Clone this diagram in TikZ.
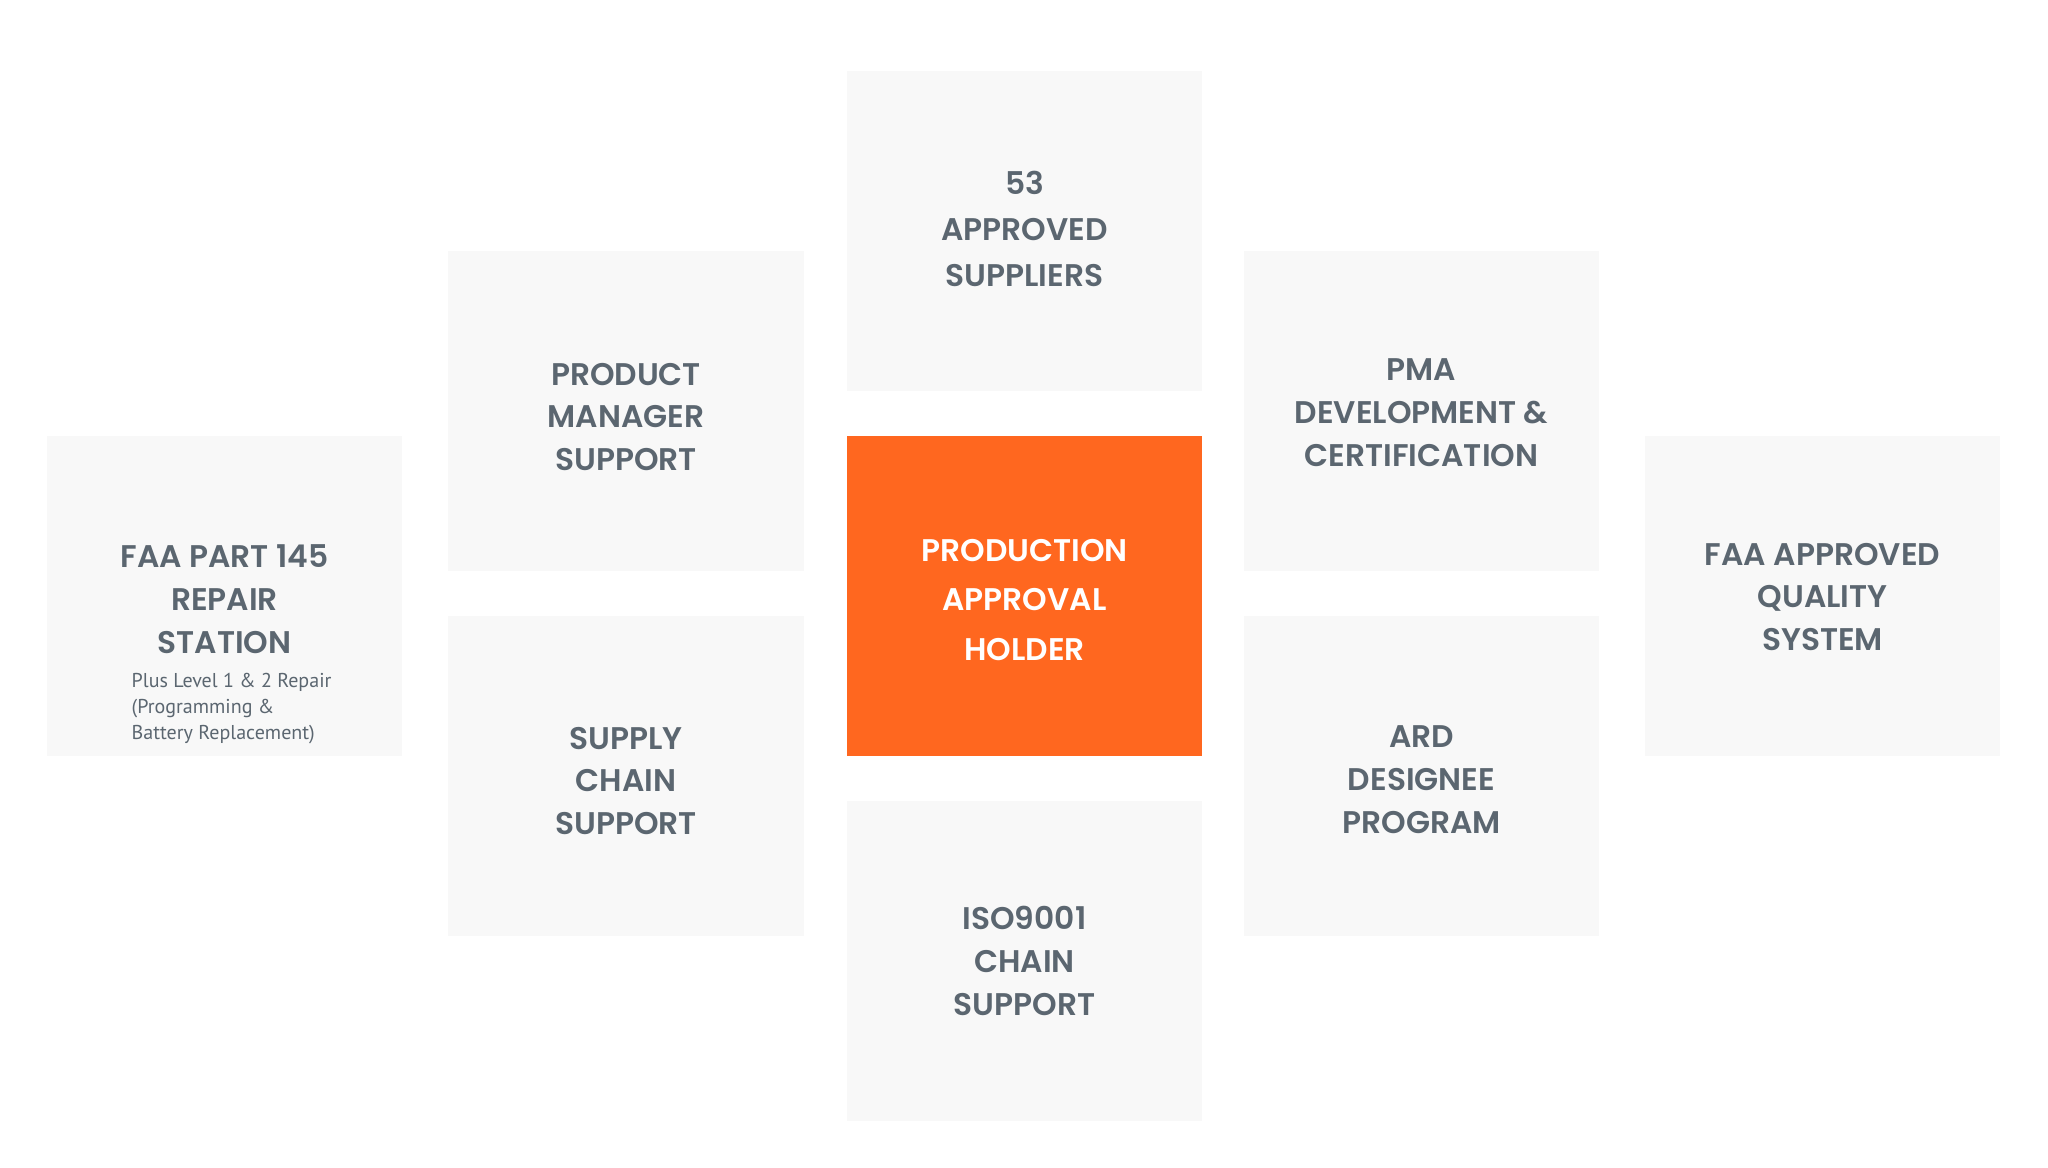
\documentclass[tikz,border=0pt]{standalone}
\usepackage{fontspec}
\setmainfont{Poppins}
\newfontfamily\hd{Poppins SemiBold}
\newfontfamily\sm{PT Sans}
\definecolor{boxgray}{HTML}{F8F8F8}
\definecolor{orng}{HTML}{FF671F}
\definecolor{txtgray}{HTML}{5B6670}
\tikzset{
  tile/.style={rectangle, fill=boxgray, draw=none, minimum width=3.55cm, minimum height=3.2cm, inner sep=0pt},
  hubtile/.style={tile, fill=orng},
  lbl/.style={align=center, text=txtgray, inner sep=0pt, font=\hd\fontsize{8.9}{12.2}\selectfont},
  toplbl/.style={lbl, font=\hd\fontsize{8.9}{13.1}\selectfont},
  hublbl/.style={lbl, text=white, font=\hd\fontsize{8.9}{14.2}\selectfont},
  sublbl/.style={anchor=base west, inner sep=0pt, text=txtgray, font=\sm\fontsize{5.7}{7}\selectfont}
}
\begin{document}
\begin{tikzpicture}[x=0.01cm, y=-0.01cm]
\useasboundingbox (0,0) rectangle (2048,1168);
\fill[white] (0,0) rectangle (2048,1168);
% tiles
\node[tile] (top) at (1024.5,231) {};
\node[hubtile] (hub) at (1024.5,596) {};
\node[tile] (bot) at (1024.5,961) {};
\node[tile] (lt) at (626,411) {};
\node[tile] (lb) at (626,776) {};
\node[tile] (rt) at (1421.5,411) {};
\node[tile] (rb) at (1421.5,776) {};
\node[tile] (fl) at (224.5,596) {};
\node[tile] (fr) at (1822.5,596) {};
% labels
\node[toplbl] (topl) at (1024.5,229) {53\\APPROVED\\SUPPLIERS};
\node[hublbl] (hubl) at (1024.5,600) {PRODUCTION\\APPROVAL\\HOLDER};
\node[lbl] (botl) at (bot.center) {ISO9001\\CHAIN\\SUPPORT};
\node[lbl] (ltl) at (626,417) {PRODUCT\\MANAGER\\SUPPORT};
\node[lbl] (lbl) at (626,781) {SUPPLY\\CHAIN\\SUPPORT};
\node[lbl] (rtl) at (1421.5,413) {PMA\\DEVELOPMENT \&\\CERTIFICATION};
\node[lbl] (rbl) at (1421.5,780) {ARD\\DESIGNEE\\PROGRAM};
\node[lbl] (frl) at (1822.5,597) {FAA APPROVED\\QUALITY\\SYSTEM};
\node[lbl] (fll) at (224.5,599) {FAA PART 145\\REPAIR\\STATION};
\node[sublbl] (fls1) at (131,688) {Plus Level 1 \& 2 Repair};
\node[sublbl] (fls2) at (131,714) {(Programming \&};
\node[sublbl] (fls3) at (131,740) {Battery Replacement)};
\end{tikzpicture}
\end{document}
